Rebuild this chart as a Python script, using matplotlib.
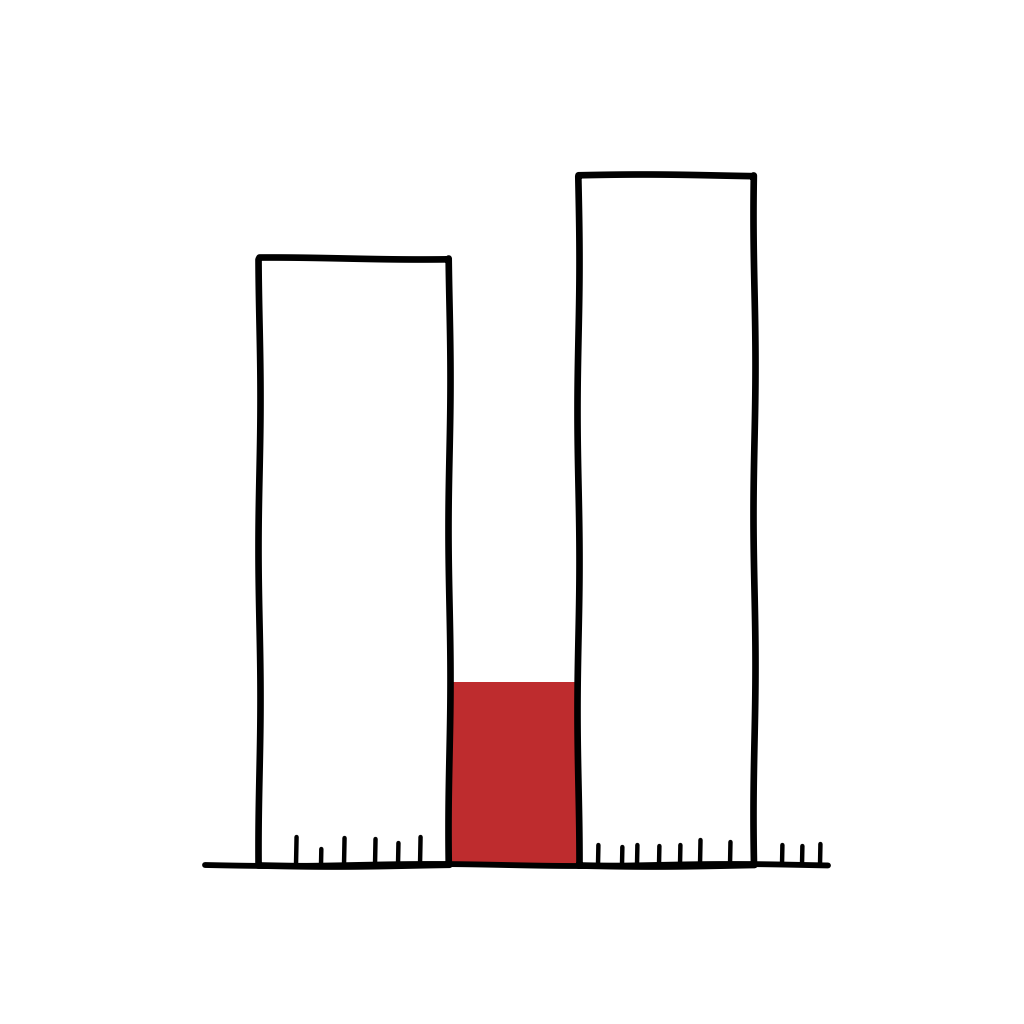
import numpy as np
import matplotlib.pyplot as plt

# bar values (right bar = 100)
labels = ["A", "B", "C"]
values = [88, 26.5, 100]
highlight = [False, True, False]

# little hand-drawn ticks along the base line
tick_pos = [91, 116, 139, 170, 193, 215,
            393, 417, 432, 454, 475, 495, 525, 577, 597, 615]
tick_len = [4.1, 2.3, 3.9, 3.8, 3.2, 4.1,
            2.9, 2.6, 2.9, 2.8, 2.9, 3.6, 3.3, 2.9, 2.8, 3.0]

fig = plt.figure(figsize=(10.24, 10.24), dpi=100)
ax = fig.add_axes([205 / 1024, 159 / 1024, 623 / 1024, 690 / 1024])

centers = [148.5, 309, 461]
widths = [190, 126, 176]
red = "#BE2C2E"

for c, w, v, hl in zip(centers, widths, values, highlight):
    if hl:
        ax.bar(c, v, width=w, color=red, edgecolor="none", zorder=2)
    else:
        ax.bar(c, v, width=w, color="white", edgecolor="none", zorder=1)

# wobbly outlines on top
with plt.rc_context({'path.sketch': (1.0, 300, 1.0)}):
    for c, w, v, hl in zip(centers, widths, values, highlight):
        if not hl:
            ax.bar(c, v, width=w, fill=False, edgecolor="black",
                   linewidth=4.8, joinstyle="round", zorder=3, clip_on=False)
    ax.vlines(tick_pos, 0, tick_len, color="black", linewidth=3.2,
              capstyle="round", zorder=4)
    ax.axhline(0, color="black", linewidth=4.2, solid_capstyle="round",
               zorder=5, clip_on=False)

ax.set_xlim(0, 623)
ax.set_ylim(0, 100)
ax.axis("off")

plt.savefig("out.png", dpi=100, facecolor="white")
